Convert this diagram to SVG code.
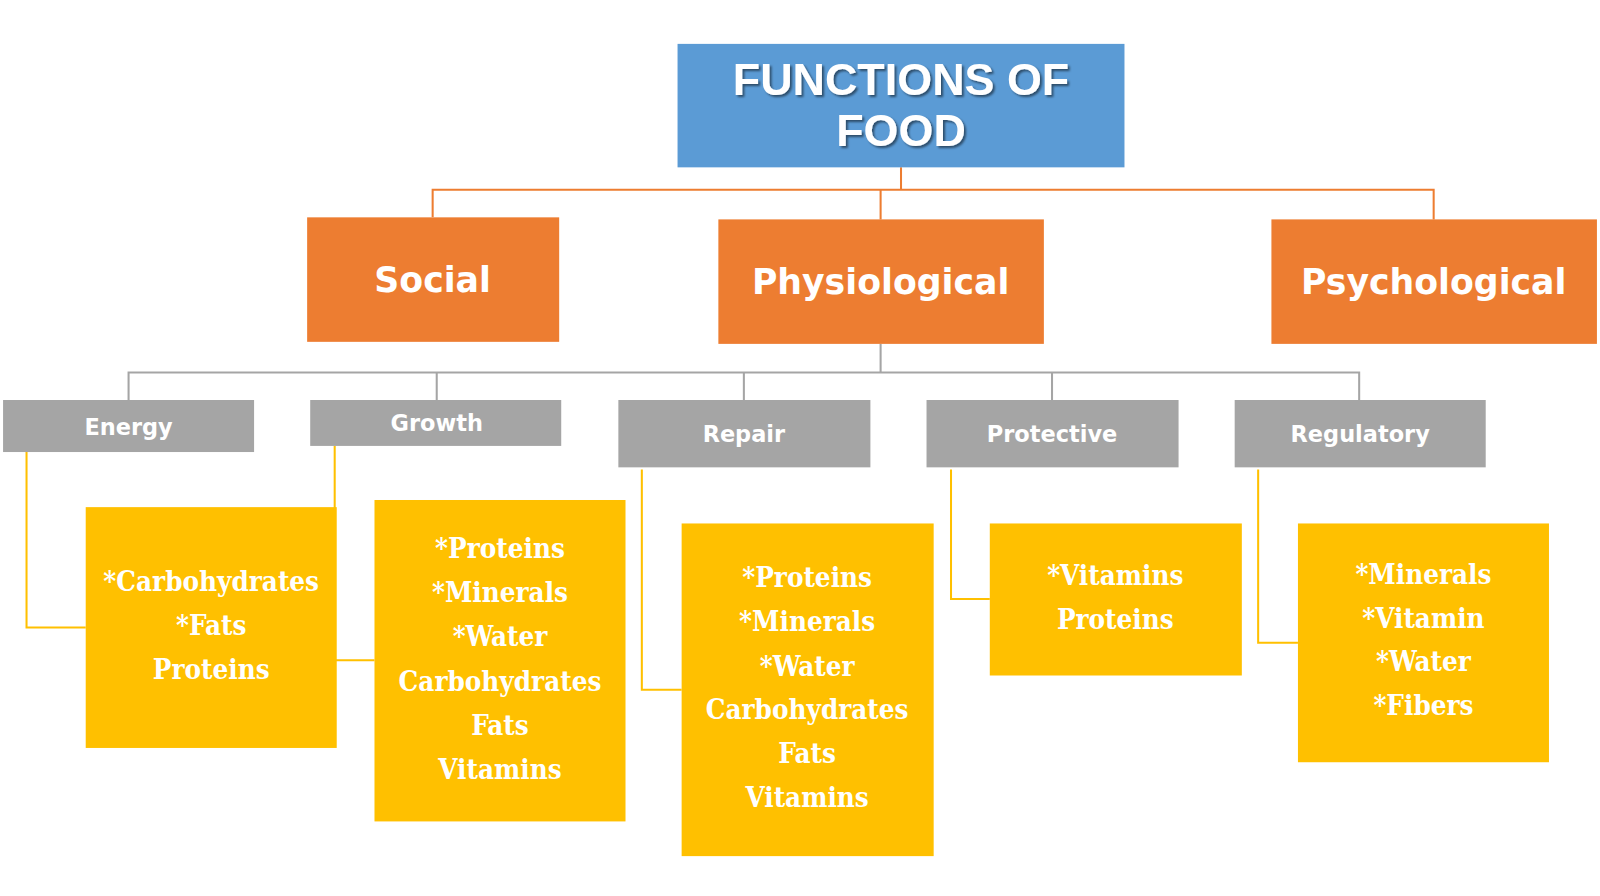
<svg xmlns="http://www.w3.org/2000/svg" width="1600" height="896" viewBox="0 0 1600 896">
<defs>
<filter id="sh" x="-10%" y="-10%" width="120%" height="130%"><feDropShadow dx="2" dy="2" stdDeviation="1" flood-color="#000" flood-opacity="0.5"/></filter>
</defs>
<style>
.t{font-family:"Liberation Sans",Arial,sans-serif;font-weight:bold;fill:#fff;text-anchor:middle}
.title{font-size:44px;filter:url(#sh)}
.cat{font-family:"DejaVu Sans","Liberation Sans",sans-serif;font-weight:bold;font-size:34px;fill:#fff;text-anchor:middle}
.sub{font-family:"DejaVu Sans","Liberation Sans",sans-serif;font-weight:bold;font-size:22px;fill:#fff;text-anchor:middle}
.y{font-family:"DejaVu Serif Condensed","DejaVu Serif","Liberation Serif",serif;font-weight:bold;font-size:27px;fill:#fff;text-anchor:middle}
.or{fill:#ED7D31}.gr{fill:#A5A5A5}.ye{fill:#FFC000}
</style>
<rect width="1600" height="896" fill="#fff"/>
<g transform="scale(1.0204)">
<g id="connectors" fill="none" stroke-width="2">
<path d="M883 164V186M424 213V186H1405V215M863 186V215" stroke="#ED7D31"/>
<path d="M863 337V365M126 392V365H1332V392M428 365V392M729 365V392M1031 365V392" stroke="#A5A5A5"/>
<path d="M26 443V615H84M328 437V647H367M629 460V676H668M932 460V587H970M1233 460V630H1272" stroke="#FFC000"/>
</g>
<g id="title"><rect x="664" y="43" width="438" height="121" fill="#5B9BD5"/>
<text class="t title" x="883" y="93">FUNCTIONS OF</text><text class="t title" x="883" y="143">FOOD</text></g>
<g id="social"><rect class="or" x="301" y="213" width="247" height="122"/><text class="cat" x="424" y="286">Social</text></g>
<g id="physiological"><rect class="or" x="704" y="215" width="319" height="122"/><text class="cat" x="863" y="288">Physiological</text></g>
<g id="psychological"><rect class="or" x="1246" y="215" width="319" height="122"/><text class="cat" x="1405" y="288">Psychological</text></g>
<g id="energy"><rect class="gr" x="3" y="392" width="246" height="51"/><text class="sub" x="126" y="426">Energy</text></g>
<g id="growth"><rect class="gr" x="304" y="392" width="246" height="45"/><text class="sub" x="428" y="422">Growth</text></g>
<g id="repair"><rect class="gr" x="606" y="392" width="247" height="66"/><text class="sub" x="729" y="433">Repair</text></g>
<g id="protective"><rect class="gr" x="908" y="392" width="247" height="66"/><text class="sub" x="1031" y="433">Protective</text></g>
<g id="regulatory"><rect class="gr" x="1210" y="392" width="246" height="66"/><text class="sub" x="1333" y="433">Regulatory</text></g>
<g id="energy-foods"><rect class="ye" x="84" y="497" width="246" height="236"/>
<text class="y" x="207" y="579">*Carbohydrates</text><text class="y" x="207" y="622">*Fats</text><text class="y" x="207" y="665">Proteins</text></g>
<g id="growth-foods"><rect class="ye" x="367" y="490" width="246" height="315"/>
<text class="y" x="490" y="547">*Proteins</text><text class="y" x="490" y="590">*Minerals</text><text class="y" x="490" y="633">*Water</text><text class="y" x="490" y="677">Carbohydrates</text><text class="y" x="490" y="720">Fats</text><text class="y" x="490" y="763">Vitamins</text></g>
<g id="repair-foods"><rect class="ye" x="668" y="513" width="247" height="326"/>
<text class="y" x="791" y="575">*Proteins</text><text class="y" x="791" y="618">*Minerals</text><text class="y" x="791" y="662">*Water</text><text class="y" x="791" y="705">Carbohydrates</text><text class="y" x="791" y="748">Fats</text><text class="y" x="791" y="791">Vitamins</text></g>
<g id="protective-foods"><rect class="ye" x="970" y="513" width="247" height="149"/>
<text class="y" x="1093" y="573">*Vitamins</text><text class="y" x="1093" y="616">Proteins</text></g>
<g id="regulatory-foods"><rect class="ye" x="1272" y="513" width="246" height="234"/>
<text class="y" x="1395" y="572">*Minerals</text><text class="y" x="1395" y="615">*Vitamin</text><text class="y" x="1395" y="658">*Water</text><text class="y" x="1395" y="701">*Fibers</text></g>
</g>
</svg>
